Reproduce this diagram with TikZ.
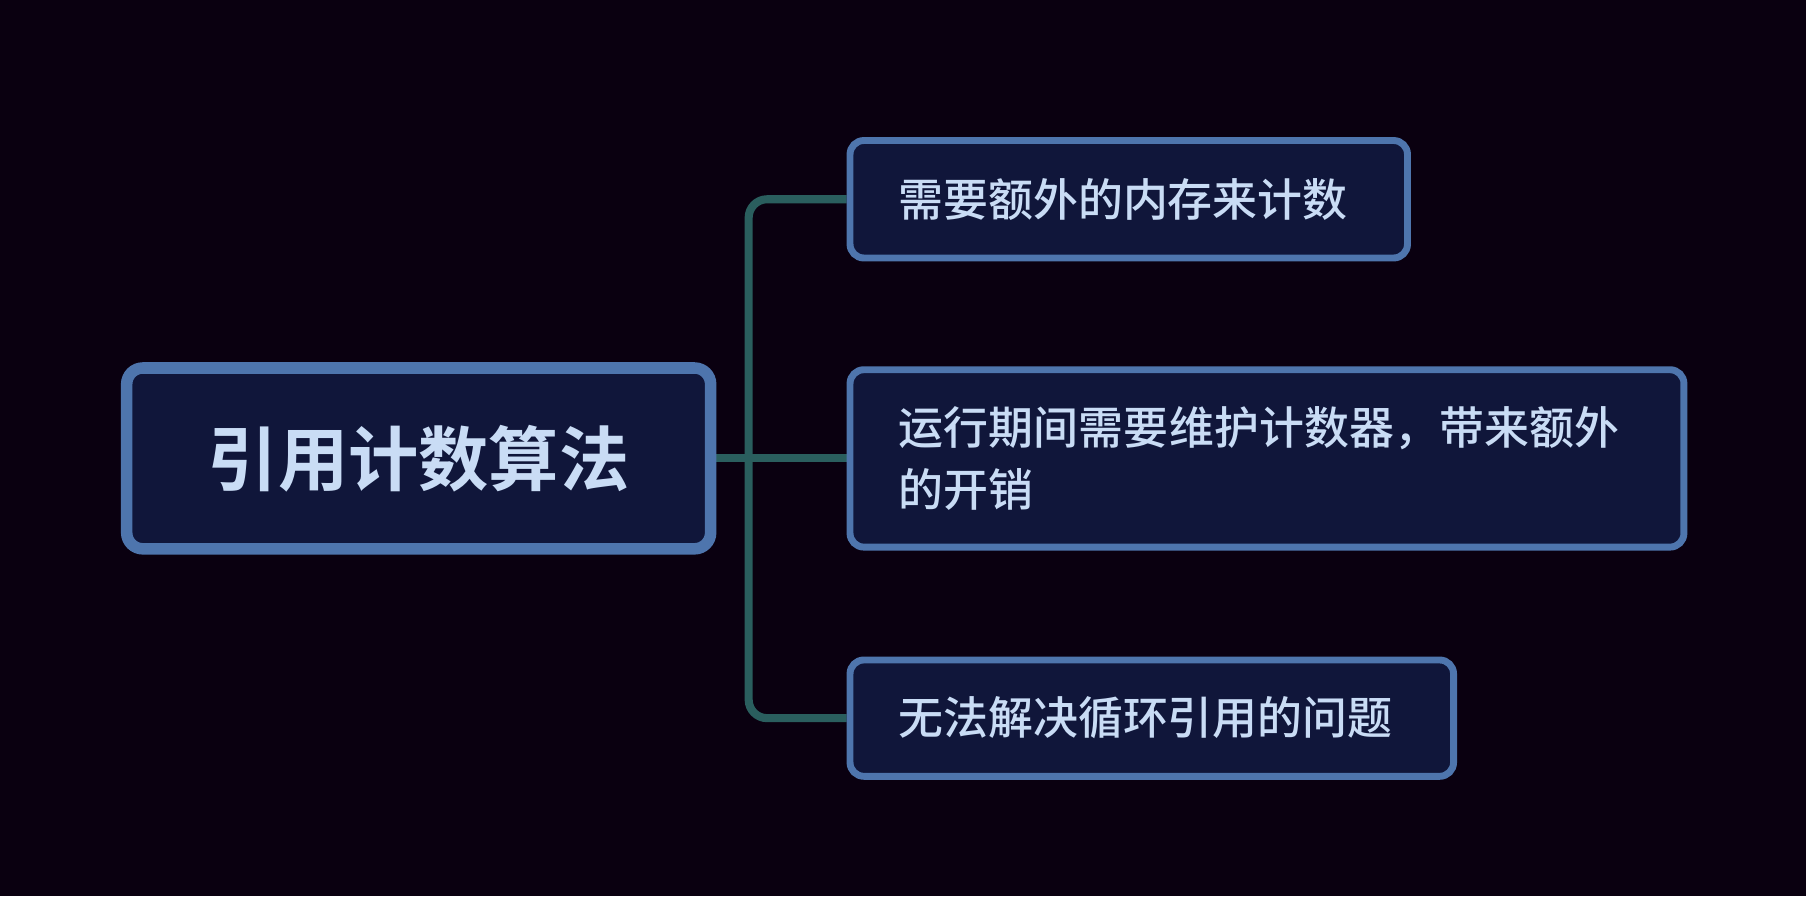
\documentclass[tikz,border=0pt]{standalone}
\usepackage{fontspec}
\newfontfamily\cjk{Noto Sans CJK SC Medium}
\newfontfamily\cjkbold{Noto Sans CJK SC Bold}
\XeTeXlinebreaklocale "zh"
\XeTeXlinebreakskip=0pt plus 1pt
\definecolor{mybg}{RGB}{10,0,16}
\definecolor{myfill}{RGB}{16,22,58}
\definecolor{myborder}{RGB}{78,117,173}
\definecolor{mytext}{RGB}{201,220,245}
\definecolor{myline}{RGB}{42,94,94}
\usetikzlibrary{backgrounds}

\begin{document}
\begin{tikzpicture}[x=1pt,y=1pt,line cap=round]
	\tikzstyle{rootbox}=[draw=myborder,fill=myfill,line width=10pt,rounded corners=14pt,text=mytext,font=\cjkbold\fontsize{61}{70}\selectfont,minimum width=507pt,minimum height=157pt];
	\tikzstyle{leaf}=[draw=myborder,fill=myfill,line width=6pt,rounded corners=12pt,text=mytext,font=\cjk\fontsize{39}{54}\selectfont,inner xsep=42pt,anchor=west];
	\tikzstyle{conn}=[draw=myline,line width=7pt,rounded corners=16pt];
	\node[rootbox] (root) at (363.5,-398) {引用计数算法};
	\node[leaf,minimum width=481pt,minimum height=102pt,text width=400pt,align=left] (one) at (735,-173) {需要额外的内存来计数};
	\node[leaf,minimum width=720pt,minimum height=154pt,text width=640pt,align=left] (two) at (735,-398) {运行期间需要维护计数器，带来额外的开销};
	\node[leaf,minimum width=521pt,minimum height=101pt,text width=440pt,align=left] (three) at (735,-623.5) {无法解决循环引用的问题};
	\coordinate (fork) at (650,-398);
	\begin{scope}[on background layer]
		\fill[mybg] (0,0) rectangle (1568,-778);
		\draw[conn] (one.west) -| (fork) |- (three.west);
		\draw[conn] (root.east) -- (two.west);
	\end{scope}
\end{tikzpicture}
\end{document}
